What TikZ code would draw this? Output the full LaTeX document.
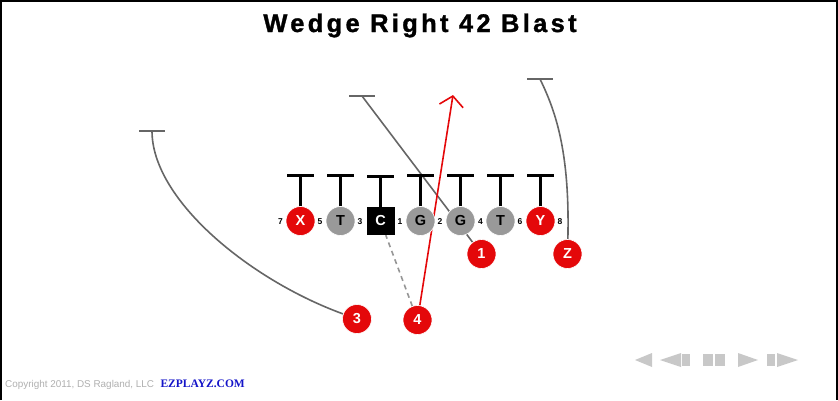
\documentclass[tikz,border=0pt]{standalone}
\usepackage{fontspec}
\setmainfont{Liberation Sans}
\newfontfamily\ttlfont[LetterSpace=13,FakeBold=1.2]{Liberation Sans}
\newfontfamily\ezfont{Liberation Serif}
\usepackage{tikz}
\usetikzlibrary{arrows.meta,positioning,backgrounds}
\definecolor{plyred}{RGB}{228,8,10}
\definecolor{plygray}{RGB}{153,153,153}
\definecolor{rtegray}{RGB}{102,102,102}
\definecolor{dshgray}{RGB}{150,150,150}
\definecolor{ctlgray}{RGB}{200,200,200}
\definecolor{cpygray}{RGB}{175,175,175}
\definecolor{ezblue}{RGB}{20,20,200}

\begin{document}
\begin{tikzpicture}[x=1pt,y=-1pt,
  plyA/.style={circle,fill=plyred,draw=white,line width=0.6pt,minimum size=29pt,inner sep=0pt,text=white,font=\fontsize{14.5}{14.5}\selectfont\bfseries},
  plyB/.style={plyA,fill=plygray,text=black},
  plyC/.style={rectangle,fill=black,minimum size=28pt,inner sep=0pt,text=white,font=\fontsize{14.5}{14.5}\selectfont\bfseries},
  gapno/.style={inner sep=0pt,font=\fontsize{8.5}{8.5}\selectfont\bfseries},
  blk/.style={line width=3.2pt,-{Bar[width=27pt]}},
  rte/.style={rtegray,line width=1.6pt},
  run/.style={plyred,line width=1.6pt,-{Straight Barb[length=10pt,width=24pt]}},
]
  \useasboundingbox (0,0) rectangle (838,400);
  \draw[line width=2.5pt] (1,400) -- (1,1) -- (837,1) -- (837,400);

  \node[anchor=base,font=\ttlfont\fontsize{25.5}{25.5}\selectfont\bfseries] (ttl) at (420,32) {Wedge Right 42 Blast};

  % line
  \node[plyA] (x)  at (300.5,221) {X};
  \node[plyB] (lt) at (340.5,221) {T};
  \node[plyC] (c)  at (380.5,221) {C};
  \node[plyB] (lg) at (420.5,221) {G};
  \node[plyB] (rg) at (460.5,221) {G};
  \node[plyB] (rt) at (500.5,221) {T};
  \node[plyA] (y)  at (540.5,221) {Y};
  \foreach \p in {x,lt,c,lg,rg,rt,y}
    \draw[blk] (\p.north) -- ++(0,-32);

  % holes
  \foreach \n/\xx in {7/280.5,5/320,3/360,1/400,2/440,4/480.5,6/520,8/560}
    \node[gapno] (h\n) at (\xx,222) {\n};

  % backs
  \node[plyA] (one)   at (481.5,254) {1};
  \node[plyA] (z)     at (567.5,254) {Z};
  \node[plyA] (three) at (357,319) {3};
  \node[plyA] (four)  at (417.5,320) {4};

  \coordinate (bar3) at (152,131);
  \coordinate (bar1) at (362,96);
  \coordinate (barz) at (540,79);
  \coordinate (tip4) at (453,95);

  \begin{pgfonlayer}{background}
    \draw[rte] (three) .. controls (250,280) and (152,200) .. (bar3);
    \draw[rte] ([xshift=-13pt]bar3) -- ([xshift=13pt]bar3);
    \draw[rte] (one) -- (bar1);
    \draw[rte] ([xshift=-13pt]bar1) -- ([xshift=13pt]bar1);
    \draw[rte] (z) .. controls (570,150) and (555,110) .. (barz);
    \draw[rte] ([xshift=-13pt]barz) -- ([xshift=13pt]barz);
    \draw[dshgray,line width=1.6pt,dash pattern=on 5pt off 4pt] (four) -- (c);
    \draw[run] (four) -- (tip4);
  \end{pgfonlayer}

  % footer
  \node[anchor=base west,inner sep=0pt,text=cpygray,font=\fontsize{9.9}{9.9}\selectfont] (cpy) at (5,387) {Copyright 2011, DS Ragland, LLC};
  \node[base right=6pt of cpy,inner sep=0pt,text=ezblue,font=\ezfont\fontsize{11.5}{11.5}\selectfont\bfseries] (ez) {EZPLAYZ.COM};

  % controls
  \fill[ctlgray] (635,360) -- (652,353) -- (652,367) -- cycle;
  \fill[ctlgray] (660,360) -- (681,353) -- (681,367) -- cycle;
  \fill[ctlgray] (682,354) rectangle (690,366);
  \fill[ctlgray] (703,354) rectangle (713,366);
  \fill[ctlgray] (715,354) rectangle (725,366);
  \fill[ctlgray] (738,353) -- (758,360) -- (738,367) -- cycle;
  \fill[ctlgray] (767,354) rectangle (775,366);
  \fill[ctlgray] (777,353) -- (798,360) -- (777,367) -- cycle;
\end{tikzpicture}
\end{document}
